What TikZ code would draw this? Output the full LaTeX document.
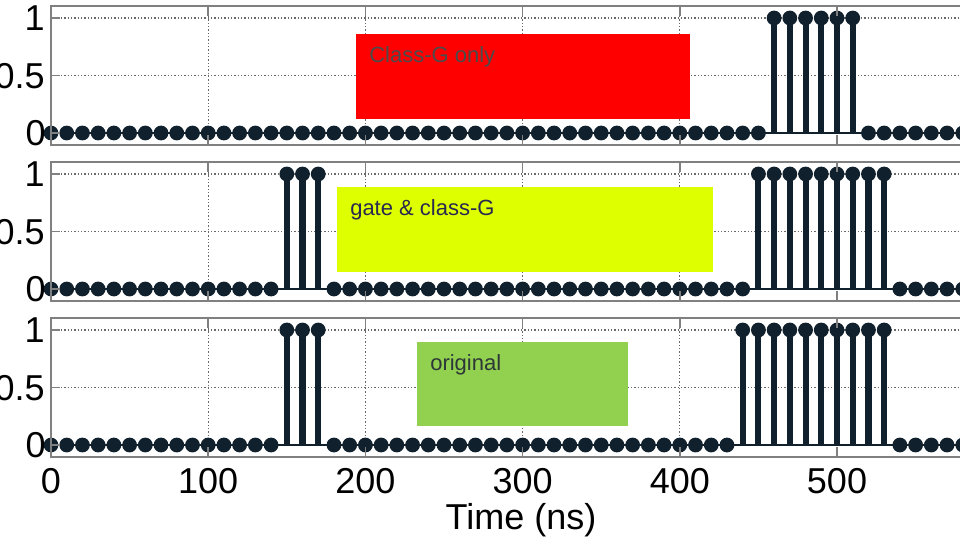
\documentclass[tikz,border=0pt]{standalone}
\usepackage{fontspec}
\setmainfont{Liberation Sans}
\definecolor{stemcol}{RGB}{16,32,44}
\definecolor{framegray}{RGB}{128,128,128}
\definecolor{gridgray}{RGB}{105,105,105}
\definecolor{boxred}{RGB}{255,0,0}
\definecolor{boxyellow}{RGB}{221,255,0}
\definecolor{boxgreen}{RGB}{146,208,80}
\definecolor{txtred}{RGB}{75,75,75}
\definecolor{txtyellow}{RGB}{40,40,80}
\definecolor{txtgreen}{RGB}{45,55,55}
\tikzset{
  frameline/.style={draw=framegray, line width=1.1pt},
  tickline/.style={draw=framegray, line width=1.1pt},
  gridline/.style={draw=gridgray, line width=0.8pt, dash pattern=on 0.9pt off 1.6pt},
  stemline/.style={draw=stemcol, line width=4.6pt},
  baseline0/.style={draw=stemcol, line width=0.8pt},
  dot/.style={fill=stemcol},
  ticklabel/.style={font=\fontsize{27}{30}\selectfont, inner sep=0pt, text=black},
  boxlabel/.style={font=\fontsize{16.5}{19}\selectfont, inner sep=0pt, anchor=base west},
}
\newcommand{\panelgrid}[1]{%
  \foreach \v in {12,69.5} \draw[gridline] (51,#1+\v) -- (1000,#1+\v);
  \foreach \t in {100,200,...,600} \draw[gridline] ({51+1.572*\t},#1) -- ({51+1.572*\t},#1+139);
  \draw[baseline0] (51,#1+127) -- (1000,#1+127);
}
\newcommand{\panelframe}[2]{%
  \foreach \t in {100,200,...,600} {
    \draw[tickline] ({51+1.572*\t},#1) -- ++(0,10);
    \draw[tickline] ({51+1.572*\t},#1+139) -- ++(0,-10);
  }
  \foreach \v in {12,69.5,127} \draw[tickline] (51,#1+\v) -- ++(9,0);
  \draw[frameline] (1000,#1) -- (51,#1) -- (51,#1+139) -- (1000,#1+139);
  \node[ticklabel, anchor=base east] (y1#2) at (45,#1+12+12.5) {1};
  \node[ticklabel, anchor=base east] (yh#2) at (45,#1+69.5+12.5) {0.5};
  \node[ticklabel, anchor=base east] (y0#2) at (46,#1+127+12.5) {0};
}
\newcommand{\zerodots}[3]{%
  \foreach \i in {#2,...,#3} \fill[dot] ({51+15.72*\i},#1+127) circle (7.4);
}
\newcommand{\onestems}[3]{%
  \foreach \i in {#2,...,#3} {
    \draw[stemline] ({51+15.72*\i},#1+127) -- ({51+15.72*\i},#1+12);
    \fill[dot] ({51+15.72*\i},#1+12) circle (7.4);
  }
}
\begin{document}
\begin{tikzpicture}[x=0.75pt,y=-0.75pt]
\useasboundingbox (0,0) rectangle (960,540);
\fill[white] (0,0) rectangle (960,540);
\clip (0,0) rectangle (960,540);

% ---------- panel 1 ----------
\panelgrid{6}
\fill[boxred] (356,34) rectangle (690,119);
\node[boxlabel, text=txtred] (lbl1) at (369,62) {Class-G only};
\zerodots{6}{0}{45}
\zerodots{6}{52}{60}
\onestems{6}{46}{51}
\panelframe{6}{a}

% ---------- panel 2 ----------
\panelgrid{162}
\fill[boxyellow] (337,187) rectangle (713,272);
\node[boxlabel, text=txtyellow] (lbl2) at (350,215) {gate \& class-G};
\zerodots{162}{0}{14}
\zerodots{162}{18}{44}
\zerodots{162}{54}{60}
\onestems{162}{15}{17}
\onestems{162}{45}{53}
\panelframe{162}{b}

% ---------- panel 3 ----------
\panelgrid{318}
\fill[boxgreen] (417,342) rectangle (628,426);
\node[boxlabel, text=txtgreen] (lbl3) at (430,370) {original};
\zerodots{318}{0}{14}
\zerodots{318}{18}{43}
\zerodots{318}{54}{60}
\onestems{318}{15}{17}
\onestems{318}{44}{53}
\panelframe{318}{c}

% ---------- x axis labels ----------
\foreach \t in {0,100,...,500}
  \node[ticklabel, anchor=base] (x\t) at ({51+1.572*\t},493) {\t};
\node[ticklabel, anchor=base] (xlabel) at (521,529) {Time (ns)};
\end{tikzpicture}
\end{document}
